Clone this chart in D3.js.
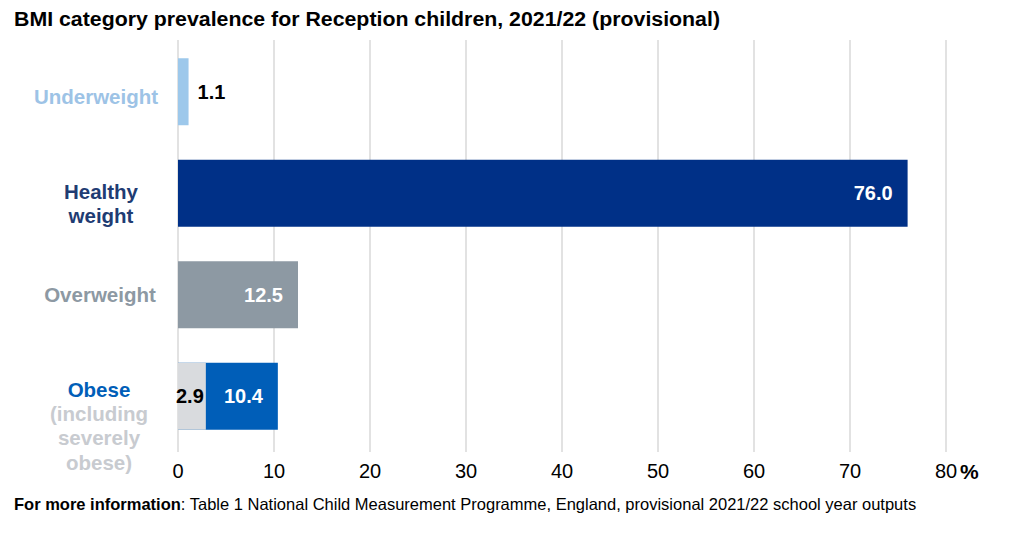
<!DOCTYPE html>
<html lang="en">
<head>
  <meta charset="UTF-8">
  <title>BMI category prevalence for Reception children</title>
  <script src="https://d3js.org/d3.v7.min.js"></script>
  <style>
    body {
      margin: 0;
      padding: 0;
      background: white;
      font-family: "Liberation Sans", Arial, sans-serif;
    }
    svg { display: block; }
  </style>
</head>
<body>
  <svg width="1024" height="536"></svg>

  <script>
    // data
    const categories = ["Underweight", "Healthy weight", "Overweight", "Obese"];
    const values = [1.1, 76.0, 12.5, 10.4];
    const severelyObese = 2.9;
    const ticks = [0, 10, 20, 30, 40, 50, 60, 70, 80];

    const barColors = ["#9dc8eb", "#003087", "#8d99a3", "#005eb8"];
    const labelColors = ["#9dc3e6", "#1f3c73", "#8d99a3", "#005eb8"];

    const svg = d3.select("svg");

    const x = d3.scaleLinear().domain([0, 80]).range([178, 946]);
    const y = d3.scaleBand().domain(categories).range([41, 447])
      .paddingInner(0.34).paddingOuter(0.17);

    // title
    svg.append("text")
      .attr("x", 14).attr("y", 26)
      .attr("font-weight", "bold").attr("font-size", 19.5)
      .attr("textLength", 706).attr("lengthAdjust", "spacingAndGlyphs")
      .attr("fill", "#000")
      .text("BMI category prevalence for Reception children, 2021/22 (provisional)");

    // gridlines
    svg.append("g").selectAll("line")
      .data(ticks)
      .join("line")
      .attr("x1", d => x(d)).attr("x2", d => x(d))
      .attr("y1", 40).attr("y2", 452)
      .attr("stroke", "#d9d9d9").attr("stroke-width", 1.5);

    // tick labels
    svg.append("g").selectAll("text")
      .data(ticks)
      .join("text")
      .attr("x", d => x(d)).attr("y", 478)
      .attr("text-anchor", "middle")
      .attr("font-size", 20).attr("fill", "#000")
      .text(d => d);
    svg.append("text")
      .attr("x", x(80) + 14).attr("y", 479)
      .attr("font-size", 21).attr("font-weight", "bold")
      .text("%");

    // bars
    svg.append("g").selectAll("rect")
      .data(categories)
      .join("rect")
      .attr("x", x(0))
      .attr("y", d => y(d))
      .attr("width", (d, i) => x(values[i]) - x(0))
      .attr("height", y.bandwidth())
      .attr("fill", (d, i) => barColors[i]);

    // severely obese overlay
    svg.append("rect")
      .attr("x", x(0))
      .attr("y", y("Obese"))
      .attr("width", x(severelyObese) - x(0))
      .attr("height", y.bandwidth())
      .attr("fill", "#d9dbde");

    // value labels
    const vl = svg.append("g")
      .attr("font-weight", "bold").attr("font-size", 20);
    categories.forEach((c, i) => {
      const inside = values[i] > 5;
      vl.append("text")
        .attr("x", inside ? x(values[i]) - 15 : x(values[i]) + 9)
        .attr("y", y(c) + y.bandwidth() / 2 + 7)
        .attr("text-anchor", inside ? "end" : "start")
        .attr("fill", inside ? "#fff" : "#000")
        .text(values[i].toFixed(1));
    });
    vl.append("text")
      .attr("x", x(severelyObese / 2) - 2)
      .attr("y", y("Obese") + y.bandwidth() / 2 + 7)
      .attr("text-anchor", "middle")
      .attr("fill", "#000")
      .text(severelyObese.toFixed(1));

    // category labels
    const cl = svg.append("g")
      .attr("font-weight", "bold").attr("font-size", 20.5)
      .attr("text-anchor", "middle");
    cl.append("text").attr("x", 96).attr("y", y("Underweight") + 46)
      .attr("fill", labelColors[0]).text("Underweight");
    cl.append("text").attr("x", 101).attr("y", y("Healthy weight") + 39)
      .attr("fill", labelColors[1]).text("Healthy");
    cl.append("text").attr("x", 101).attr("y", y("Healthy weight") + 63)
      .attr("fill", labelColors[1]).text("weight");
    cl.append("text").attr("x", 100).attr("y", y("Overweight") + 41)
      .attr("fill", labelColors[2]).text("Overweight");
    cl.append("text").attr("x", 99).attr("y", y("Obese") + 34)
      .attr("fill", labelColors[3]).text("Obese");
    ["(including", "severely", "obese)"].forEach((t, i) => {
      cl.append("text").attr("x", 99).attr("y", y("Obese") + 58 + i * 24.5)
        .attr("fill", "#c8cbd0").text(t);
    });

    // footnote
    const fn = svg.append("text")
      .attr("x", 14).attr("y", 510)
      .attr("font-size", 16.5).attr("fill", "#000");
    fn.append("tspan").attr("font-weight", "bold").text("For more information");
    fn.append("tspan").text(": Table 1 National Child Measurement Programme, England, provisional 2021/22 school year outputs");
  </script>
</body>
</html>
